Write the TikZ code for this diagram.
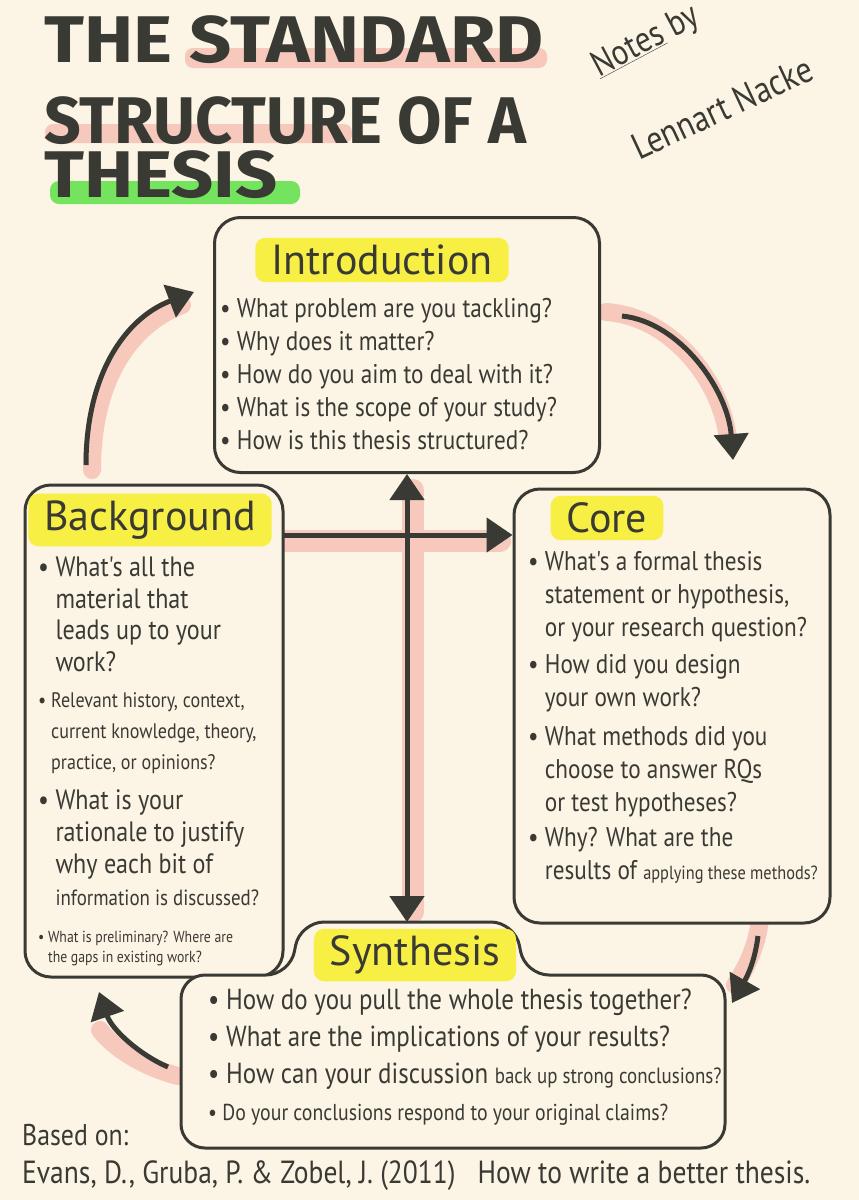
\documentclass[tikz,border=0pt]{standalone}
\usepackage{fontspec}
\setmainfont{PT Sans}
\newfontfamily\hand[FakeStretch=0.86]{PT Sans}
\newfontfamily\titlefont[FakeStretch=1.12]{Fira Sans}
\usetikzlibrary{positioning, arrows.meta, calc}
\definecolor{paper}{HTML}{FCF4E4}
\definecolor{ink}{HTML}{3A3A35}
\definecolor{hlyellow}{HTML}{F8EF45}
\definecolor{hlpink}{HTML}{F7C9BD}
\definecolor{hlgreen}{HTML}{74E45E}
\newcommand{\fsz}[2]{\fontsize{#1}{#2}\selectfont}
\newcommand{\bul}{\textbullet\ }
\newcommand{\ind}{\phantom{\textbullet\ }}

\begin{document}
\begin{tikzpicture}[x=1pt, y=-1pt,
    every node/.style={text=ink, inner sep=0pt},
    box/.style={rectangle, rounded corners=26pt, draw=ink, line width=3pt, fill=paper},
    head/.style={fill=hlyellow, rounded corners=10pt, inner xsep=16pt, inner ysep=7pt,
      font=\fsz{42}{42}},
    body/.style={align=left, anchor=north west, font=\hand\fsz{27}{33}},
    ttl/.style={anchor=base west, font=\titlefont\bfseries\fsz{66}{66}},
    bigtip/.tip={Triangle[length=26pt,width=34pt]},
    arr/.style={-bigtip, draw=ink, line width=5pt},
    glow/.style={draw=hlpink, line width=18pt, line cap=round}]

  \fill[paper] (0,0) rectangle (859,1200);
  \useasboundingbox (0,0) rectangle (859,1200);

  % title and byline
  \fill[hlpink, rounded corners=8pt] (185,48) rectangle (547,68);
  \fill[hlpink, rounded corners=8pt] (45,124) rectangle (352,143);
  \fill[hlgreen, rounded corners=9pt] (50,181) rectangle (300,204);
  \node[ttl] (title1) at (44,62) {THE STANDARD};
  \node[ttl] (title2) at (44,143) {\scalebox{0.87}[1]{STRUCTURE OF A}};
  \node[ttl] (title3) at (44,197) {THESIS};
  \node[rotate=28, font=\hand\fsz{36}{36}] (notes) at (646,42) {\underline{Notes} by};
  \node[rotate=25, font=\hand\fsz{37}{37}] (author) at (722,108) {Lennart Nacke};

  % highlighter strokes under the arrows
  \draw[glow] (92,470) .. controls (92,380) and (130,325) .. (182,305);
  \draw[glow] (606,312) .. controls (670,316) and (722,380) .. (728,440);
  \draw[glow] (760,918) .. controls (758,945) and (745,970) .. (735,985);
  \draw[glow] (178,1076) .. controls (140,1066) and (112,1046) .. (100,1030);
  \draw[glow, line width=22pt] (276,541) -- (500,541);
  \draw[glow, line width=22pt] (413,490) -- (413,912);

  % introduction
  \node[box, minimum width=385pt, minimum height=255pt] (intro) at (407,345) {};
  \node[head] (introhead) at (382,260) {Introduction};
  \node[body] (introtxt) at (220,298) {\bul What problem are you tackling?\\
    \bul Why does it matter?\\
    \bul How do you aim to deal with it?\\
    \bul What is the scope of your study?\\
    \bul How is this thesis structured?};

  % background
  \node[box, minimum width=258pt, minimum height=492pt] (back) at (154,731) {};
  \node[head] (backhead) at (150,520) {Background};
  \node[body, font=\hand\fsz{28}{31.5}] (backtxt1) at (38,557) {\bul What's all the\\
    \ind material that\\ \ind leads up to your\\ \ind work?};
  \node[body, font=\hand\fsz{21}{31}] (backtxt2) at (38,692) {\bul Relevant history, context,\\
    \ind current knowledge, theory,\\ \ind practice, or opinions?};
  \node[body, font=\hand\fsz{28}{32}] (backtxt3) at (38,789) {\bul What is your\\
    \ind rationale to justify\\ \ind why each bit of\\
    \ind {\fsz{22}{22}information is discussed?}};
  \node[body, font=\hand\fsz{16}{20}] (backtxt4) at (38,931) {\bul What is preliminary? Where are\\
    \ind the gaps in existing work?};

  % core
  \node[box, minimum width=316pt, minimum height=434pt] (core) at (672,706) {};
  \node[head] (corehead) at (607,518) {Core};
  \node[body] (coretxt1) at (528,551) {\bul What's a formal thesis\\
    \ind statement or hypothesis,\\ \ind or your research question?};
  \node[body] (coretxt2) at (528,654) {\bul How did you design\\ \ind your own work?};
  \node[body] (coretxt3) at (528,726) {\bul What methods did you\\
    \ind choose to answer RQs\\ \ind or test hypotheses?};
  \node[body] (coretxt4) at (528,827) {\bul Why? What are the\\
    \ind results of {\fsz{19}{19}applying these methods?}};

  % synthesis
  \draw[ink, line width=3pt, fill=paper, rounded corners=24pt]
    (181,1060) -- (181,975) -- (290,975) -- (300,922) -- (515,922) -- (525,975)
    -- (725,975) -- (725,1148) -- (181,1148) -- cycle;
  \coordinate (synthtop) at (411,922);
  \node[head] (synthhead) at (415,955) {Synthesis};
  \node[body, font=\hand\fsz{29}{37}] (synthtxt) at (208,989) {\bul How do you pull the whole thesis together?\\
    \bul What are the implications of your results?\\
    \bul How can your discussion {\fsz{22}{22}back up strong conclusions?}\\
    {\fsz{23}{23}\bul Do your conclusions respond to your original claims?}};

  % arrows
  \coordinate (lefttail) at (86,465);
  \coordinate (lefthead) at (194,292);
  \coordinate (righttail) at (622,316);
  \coordinate (righthead) at (733,460);
  \coordinate (brtail) at (758,936);
  \coordinate (brhead) at (732,1003);
  \coordinate (bltail) at (168,1067);
  \coordinate (blhead) at (99,992);
  \coordinate (hlink) at (283,535);
  \draw[arr] (lefttail) .. controls (86,375) and (125,318) .. (lefthead);
  \draw[arr] (righttail) .. controls (680,322) and (728,390) .. (righthead);
  \draw[arr] (brtail) .. controls (755,960) and (748,975) .. (brhead);
  \draw[arr] (bltail) .. controls (140,1055) and (112,1030) .. (blhead);
  \draw[arr] (hlink) -- (hlink -| core.west);
  \draw[arr, bigtip-bigtip] (intro.south) -- (intro.south |- synthtop);

  % source
  \node[anchor=base west, font=\hand\fsz{30}{30}] (based) at (22,1145) {Based on:};
  \node[anchor=base west, font=\hand\fsz{32}{32}] (source) at (22,1183)
    {Evans, D., Gruba, P. \& Zobel, J. (2011)\hspace{22pt}How to write a better thesis.};
\end{tikzpicture}
\end{document}
